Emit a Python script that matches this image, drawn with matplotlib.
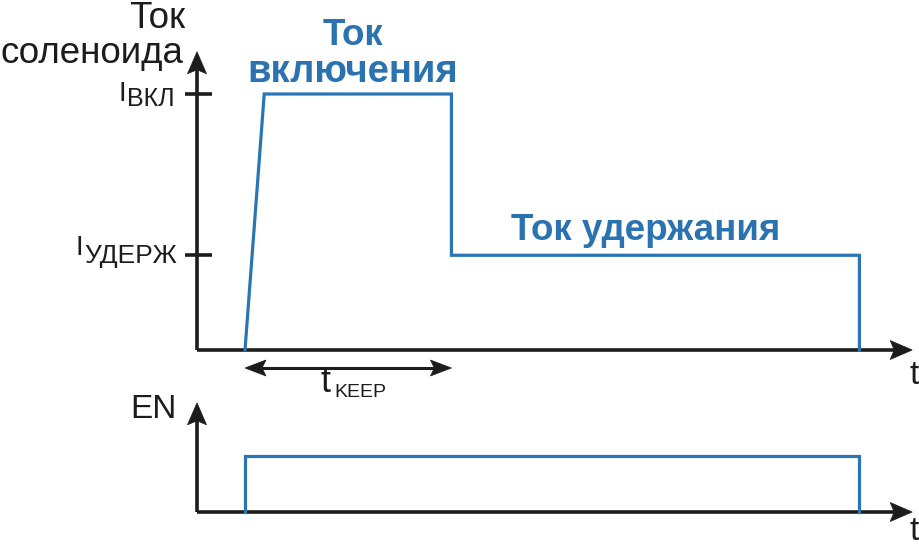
import matplotlib
matplotlib.use("Agg")
import matplotlib.pyplot as plt
from matplotlib.patches import Polygon
from matplotlib.transforms import IdentityTransform
import numpy as np

# ---------------- data (diagram units: time in ms-like units, current normalised) -------------
t_on = 10.0          # EN goes high, current starts rising
t_peak = 14.0        # current reaches pull-in level
t_keep_end = 53.0    # end of t_KEEP (pull-in phase)
t_off = 138.0        # EN goes low, current falls
t_axis_end = 149.0   # end of time axis

I_on = 1.0           # pull-in current  (I_ВКЛ)
I_hold = 0.37        # hold current     (I_УДЕРЖ)
I_axis_top = 1.165

t_current = [t_on, t_peak, t_keep_end, t_keep_end, t_off, t_off]
i_current = [0.0, I_on, I_on, I_hold, I_hold, 0.0]

t_en = [t_on, t_on, t_off, t_off]
en_level = [0.0, 1.0, 1.0, 0.0]
en_axis_top = 1.95

tick_levels = [I_on, I_hold]
tick_main = ["I", "I"]
tick_sub = ["ВКЛ", "УДЕРЖ"]

# ---------------- styling ----------------
W, H = 920, 547
DPI = 100
BLUE = "#2a76b4"
BLUE_TXT = "#2a72b0"
BLACK = "#1c1c1c"
FONT = "Liberation Sans"
plt.rcParams["font.family"] = [FONT, "DejaVu Sans"]

fig = plt.figure(figsize=(W / DPI, H / DPI), dpi=DPI)

# pixel geometry of the two panels (origin positions and scales)
ox = 197.0
xs = 4.8          # px per time unit
oy_top, ys_top = 350.0, 256.0
oy_bot, ys_bot = 512.0, 56.0

ax_top = fig.add_axes([0, 0, 1, 1])
ax_bot = fig.add_axes([0, 0, 1, 1])
for ax in (ax_top, ax_bot):
    ax.set_axis_off()
    ax.patch.set_alpha(0)
    ax.set_xlim(-ox / xs, (W - ox) / xs)
ax_top.set_ylim(-(H - oy_top) / ys_top, oy_top / ys_top)
ax_bot.set_ylim(-(H - oy_bot) / ys_bot, oy_bot / ys_bot)

AX_LW = 2.6
LINE_LW = 2.3


def arrowhead(ax, tip, direction, length=22, half=9.5, notch=4):
    p = ax.transData.transform(tip)
    d = np.asarray(direction, float)
    d = d / np.hypot(*d)
    n = np.array([-d[1], d[0]])
    pts = [p,
           p - d * length + n * half,
           p - d * (length - notch),
           p - d * length - n * half]
    ax.add_patch(Polygon(pts, closed=True, transform=IdentityTransform(),
                         facecolor=BLACK, edgecolor=BLACK, lw=0.5, zorder=5,
                         clip_on=False))


def back(ax, tip, direction, dist):
    """data point lying `dist` pixels back from tip along direction"""
    p = ax.transData.transform(tip)
    d = np.asarray(direction, float)
    d = d / np.hypot(*d)
    return ax.transData.inverted().transform(p - d * dist)


# ---------------- top panel ----------------
xe = back(ax_top, (t_axis_end, 0), (1, 0), 18)[0]
ye = back(ax_top, (0, I_axis_top), (0, 1), 18)[1]
ax_top.plot([0, xe], [0, 0], color=BLACK, lw=AX_LW, solid_capstyle="butt", zorder=3)
ax_top.plot([0, 0], [0, ye], color=BLACK, lw=AX_LW, solid_capstyle="butt", zorder=3)
arrowhead(ax_top, (t_axis_end, 0), (1, 0))
arrowhead(ax_top, (0, I_axis_top), (0, 1))

ax_top.plot(t_current, i_current, color=BLUE, lw=LINE_LW, solid_joinstyle="miter", zorder=4)

# level ticks
for lvl in tick_levels:
    x0 = back(ax_top, (0, lvl), (1, 0), 12)[0]
    x1 = back(ax_top, (0, lvl), (-1, 0), 15)[0]
    ax_top.plot([x0, x1], [lvl, lvl], color=BLACK, lw=AX_LW, solid_capstyle="butt", zorder=3)

# tick labels (I with subscript)
lbl_offsets = [(-71, -7, -22, -12, 18), (-114, 0, -20, -8, 19)]
for lvl, m, s, (mx, my, sx, sy, fs) in zip(tick_levels, tick_main, tick_sub, lbl_offsets):
    ax_top.annotate(m, xy=(0, lvl), xytext=(mx, my), textcoords="offset pixels",
                    ha="right", va="baseline", fontsize=20, color=BLACK)
    ax_top.annotate(s, xy=(0, lvl), xytext=(sx, sy), textcoords="offset pixels",
                    ha="right", va="baseline", fontsize=fs, color=BLACK)

# axis title
ax_top.annotate("Ток", xy=(0, I_axis_top), xytext=(-12, 24),
                textcoords="offset pixels", ha="right", va="baseline",
                fontsize=26.5, color=BLACK)
ax_top.annotate("соленоида", xy=(0, I_axis_top), xytext=(-14, -11),
                textcoords="offset pixels", ha="right", va="baseline",
                fontsize=26.5, color=BLACK)
ax_top.annotate("t", xy=(t_axis_end, 0), xytext=(-3, -34),
                textcoords="offset pixels", ha="left", va="baseline",
                fontsize=24, color=BLACK)

# phase labels
t_mid_on = (t_on + t_keep_end) / 2 + 1
ax_top.text(t_mid_on, I_on + (94 - 45) / ys_top, "Ток", ha="center", va="baseline",
            fontsize=26.5, fontweight="bold", color=BLUE_TXT)
ax_top.text(t_mid_on, I_on + (94 - 82) / ys_top, "включения", ha="center", va="baseline",
            fontsize=27.5, fontweight="bold", color=BLUE_TXT)
ax_top.text((t_keep_end + t_off) / 2 - 2, I_hold + (255 - 240) / ys_top, "Ток удержания",
            ha="center", va="baseline", fontsize=26.5, fontweight="bold", color=BLUE_TXT)

# t_KEEP dimension arrow
y_keep = -(368 - oy_top) / ys_top
xl = back(ax_top, (t_on, y_keep), (-1, 0), 16)[0]
xr = back(ax_top, (t_keep_end, y_keep), (1, 0), 16)[0]
ax_top.plot([xl, xr], [y_keep, y_keep], color=BLACK, lw=2.2, solid_capstyle="butt", zorder=3)
arrowhead(ax_top, (t_on, y_keep), (-1, 0), length=21, half=8, notch=4)
arrowhead(ax_top, (t_keep_end, y_keep), (1, 0), length=21, half=8, notch=4)
t_mid_keep = (t_on + t_keep_end) / 2
ax_top.annotate("t", xy=(t_mid_keep, y_keep), xytext=(-18, -24), textcoords="offset pixels",
                ha="right", va="baseline", fontsize=26, color=BLACK)
ax_top.annotate("KEEP", xy=(t_mid_keep, y_keep), xytext=(-14, -29), textcoords="offset pixels",
                ha="left", va="baseline", fontsize=14, color=BLACK)

# ---------------- bottom panel ----------------
xe = back(ax_bot, (t_axis_end, 0), (1, 0), 18)[0]
ye = back(ax_bot, (0, en_axis_top), (0, 1), 18)[1]
ax_bot.plot([0, xe], [0, 0], color=BLACK, lw=AX_LW, solid_capstyle="butt", zorder=3)
ax_bot.plot([0, 0], [0, ye], color=BLACK, lw=AX_LW, solid_capstyle="butt", zorder=3)
arrowhead(ax_bot, (t_axis_end, 0), (1, 0))
arrowhead(ax_bot, (0, en_axis_top), (0, 1))
ax_bot.plot(t_en, en_level, color=BLUE, lw=LINE_LW, solid_joinstyle="miter", zorder=4)

ax_bot.annotate("EN", xy=(0, en_axis_top), xytext=(-20, 403 - 418),
                textcoords="offset pixels", ha="right", va="baseline",
                fontsize=24, color=BLACK)
ax_bot.annotate("t", xy=(t_axis_end, 0), xytext=(-3, -28),
                textcoords="offset pixels", ha="left", va="baseline",
                fontsize=24, color=BLACK)

fig.savefig("out.png", dpi=DPI, facecolor="white")
